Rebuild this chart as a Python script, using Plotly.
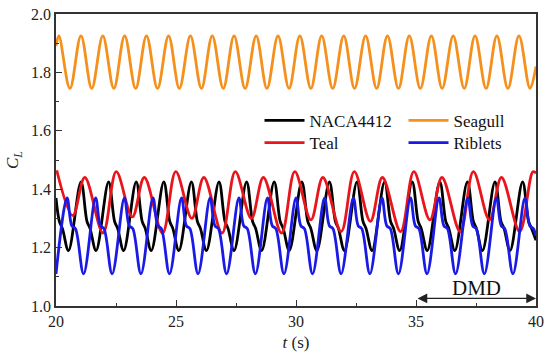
import plotly.graph_objects as go

# ---------------- data ----------------
naca_t = [20.00, 20.14, 20.27, 20.52,
          21.04, 21.29, 21.42, 21.67, 22.19, 22.44, 22.57, 22.82,
          23.34, 23.59, 23.72, 23.97, 24.49, 24.74, 24.87, 25.12,
          25.64, 25.89, 26.02, 26.27, 26.79, 27.04, 27.17, 27.42,
          27.94, 28.19, 28.32, 28.57, 29.09, 29.34, 29.47, 29.72,
          30.24, 30.49, 30.62, 30.87, 31.39, 31.64, 31.77, 32.02,
          32.54, 32.79, 32.92, 33.17, 33.69, 33.94, 34.07, 34.32,
          34.84, 35.09, 35.22, 35.47, 35.99, 36.24, 36.37, 36.62,
          37.14, 37.39, 37.52, 37.77, 38.29, 38.54, 38.67, 38.92,
          39.44, 39.69, 39.82, 40.00]
naca_cl = [1.37, 1.29, 1.265, 1.19,
           1.425, 1.29, 1.265, 1.19, 1.425, 1.29, 1.265, 1.19,
           1.425, 1.29, 1.265, 1.19, 1.425, 1.29, 1.265, 1.19,
           1.425, 1.29, 1.265, 1.19, 1.425, 1.29, 1.265, 1.19,
           1.425, 1.29, 1.265, 1.19, 1.425, 1.29, 1.265, 1.19,
           1.425, 1.29, 1.265, 1.19, 1.425, 1.29, 1.265, 1.19,
           1.425, 1.29, 1.265, 1.19, 1.425, 1.29, 1.265, 1.19,
           1.425, 1.29, 1.265, 1.19, 1.425, 1.29, 1.265, 1.19,
           1.425, 1.29, 1.265, 1.19, 1.425, 1.29, 1.265, 1.19,
           1.425, 1.29, 1.265, 1.225]

seagull_t = [20.00, 20.12, 20.58, 21.04, 21.49, 21.95, 22.41, 22.86, 23.32,
             23.77, 24.23, 24.69, 25.14, 25.60, 26.06, 26.51, 26.97, 27.42,
             27.88, 28.34, 28.79, 29.25, 29.71, 30.16, 30.62, 31.07, 31.53,
             31.99, 32.44, 32.90, 33.36, 33.81, 34.27, 34.72, 35.18, 35.64,
             36.09, 36.55, 37.01, 37.46, 37.92, 38.37, 38.83, 39.29, 39.75,
             40.00]
seagull_cl = [1.89, 1.925, 1.745, 1.925, 1.745, 1.925, 1.745, 1.925, 1.745,
              1.925, 1.745, 1.925, 1.745, 1.925, 1.745, 1.925, 1.745, 1.925,
              1.745, 1.925, 1.745, 1.925, 1.745, 1.925, 1.745, 1.925, 1.745,
              1.925, 1.745, 1.925, 1.745, 1.925, 1.745, 1.925, 1.745, 1.925,
              1.745, 1.925, 1.745, 1.925, 1.745, 1.925, 1.745, 1.925, 1.745,
              1.82]

teal_t = [20.03, 20.70, 21.20, 21.96, 22.51, 23.18, 23.68, 24.44,
          24.99, 25.66, 26.16, 26.92, 27.47, 28.14, 28.64, 29.40,
          29.95, 30.62, 31.12, 31.88, 32.43, 33.10, 33.60, 34.36,
          34.91, 35.58, 36.08, 36.84, 37.39, 38.06, 38.56, 39.32,
          39.87, 40.00]
teal_cl = [1.465, 1.31, 1.44, 1.25, 1.46, 1.305, 1.44, 1.25,
           1.46, 1.30, 1.44, 1.25, 1.46, 1.30, 1.44, 1.25,
           1.46, 1.295, 1.44, 1.255, 1.46, 1.29, 1.44, 1.255,
           1.46, 1.295, 1.44, 1.255, 1.46, 1.295, 1.44, 1.255,
           1.46, 1.455]

riblets_t = [20.00,
             20.46, 20.66, 20.81, 21.15, 21.65, 21.85, 22.00, 22.34,
             22.85, 23.05, 23.20, 23.54, 24.04, 24.24, 24.39, 24.73,
             25.23, 25.43, 25.58, 25.92, 26.42, 26.62, 26.77, 27.11,
             27.62, 27.82, 27.97, 28.31, 28.81, 29.01, 29.16, 29.50,
             30.00, 30.20, 30.35, 30.69, 31.19, 31.39, 31.54, 31.88,
             32.39, 32.59, 32.74, 33.08, 33.58, 33.78, 33.93, 34.27,
             34.77, 34.97, 35.12, 35.46, 35.96, 36.16, 36.31, 36.65,
             37.16, 37.36, 37.51, 37.85, 38.35, 38.55, 38.70, 39.04,
             39.54, 39.74, 39.89, 40.00]
riblets_cl = [1.11,
              1.37, 1.275, 1.265, 1.11, 1.37, 1.275, 1.265, 1.11,
              1.37, 1.275, 1.265, 1.11, 1.37, 1.275, 1.265, 1.11,
              1.37, 1.275, 1.265, 1.11, 1.37, 1.275, 1.265, 1.11,
              1.37, 1.275, 1.265, 1.11, 1.37, 1.275, 1.265, 1.11,
              1.37, 1.275, 1.265, 1.11, 1.37, 1.275, 1.265, 1.11,
              1.37, 1.275, 1.265, 1.11, 1.37, 1.275, 1.265, 1.11,
              1.37, 1.275, 1.265, 1.11, 1.37, 1.275, 1.265, 1.11,
              1.37, 1.275, 1.265, 1.11, 1.37, 1.275, 1.265, 1.11,
              1.37, 1.275, 1.265, 1.24]

x_ticks = [20, 25, 30, 35, 40]
y_ticks = [1.0, 1.2, 1.4, 1.6, 1.8, 2.0]
dmd_start, dmd_end = 35, 40

FONT = "Liberation Serif, Times New Roman, serif"

fig = go.Figure()
series = [
    ("NACA4412", naca_t, naca_cl, "#000000", "legend"),
    ("Seagull", seagull_t, seagull_cl, "#F5901C", "legend"),
    ("Teal", teal_t, teal_cl, "#E8161C", "legend2"),
    ("Riblets", riblets_t, riblets_cl, "#1A1AE6", "legend2"),
]
for name, t, cl, col, lg in series:
    fig.add_trace(go.Scatter(
        x=t, y=cl, name=name, mode="lines",
        line=dict(color=col, width=2.8, shape="spline", smoothing=1.0),
        legend=lg))

axis_common = dict(
    showgrid=False, zeroline=False, showline=True, mirror=True, automargin=False,
    linecolor="#333333", linewidth=1.5, ticks="inside", ticklen=6,
    tickwidth=1.2, tickcolor="#333333",
    tickfont=dict(family=FONT, size=16, color="#222222"),
)
fig.update_xaxes(range=[20, 40], tickvals=x_ticks,
                 minor=dict(dtick=2.5, ticks="inside", ticklen=3, tickcolor="#333333", tickwidth=1.2),
                 title=dict(text="<i>t</i> (s)", font=dict(family=FONT, size=17, color="#222222"), standoff=7),
                 **axis_common)
fig.update_yaxes(range=[1.0, 2.0], tickvals=y_ticks, tickformat=".1f",
                 minor=dict(dtick=0.1, ticks="inside", ticklen=3, tickcolor="#333333", tickwidth=1.2),
                 title=dict(text="<i>C</i><sub><i>L</i></sub>", font=dict(family=FONT, size=17, color="#222222"), standoff=8),
                 **axis_common)

leg_common = dict(orientation="h", xanchor="left", yanchor="middle",
                  entrywidth=89, entrywidthmode="pixels",
                  bgcolor="rgba(0,0,0,0)", borderwidth=0,
                  font=dict(family=FONT, size=17, color="#111111"),
                  itemwidth=40, tracegroupgap=0)
fig.update_layout(
    width=550, height=355,
    font=dict(family=FONT, color="#222222"),
    margin=dict(l=56, r=14, t=14, b=49, autoexpand=False),
    paper_bgcolor="white", plot_bgcolor="white",
    showlegend=True,
    legend=dict(x=0.424, y=0.634, **leg_common),
    legend2=dict(x=0.424, y=0.558, **leg_common),
    annotations=[
        dict(x=dmd_end, y=1.026, ax=dmd_start, ay=1.026, xref="x", yref="y",
             axref="x", ayref="y", text="", showarrow=True,
             arrowhead=2, startarrowhead=2, arrowside="end+start",
             arrowsize=1.5, startarrowsize=1.5, arrowwidth=1.3, arrowcolor="#222222"),
        dict(x=37.53, y=1.063, xref="x", yref="y", text="DMD", showarrow=False,
             font=dict(family=FONT, size=21, color="#111111")),
    ],
)

fig.write_html("out.html", config={"displayModeBar": False},
               post_script="document.body.style.margin='0px';")
